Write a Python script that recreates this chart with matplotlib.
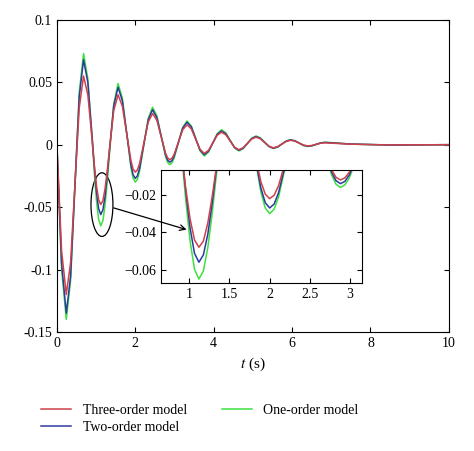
import matplotlib
matplotlib.use("Agg")
import matplotlib.pyplot as plt
import numpy as np
from matplotlib.patches import Ellipse

plt.rcParams['font.family'] = ['Liberation Serif', 'DejaVu Serif']
plt.rcParams['mathtext.fontset'] = 'stix'

# time samples (s)
t = [0, 0.12, 0.24, 0.35, 0.46, 0.57, 0.68, 0.79, 0.90, 1.01, 1.12, 1.23, 1.34, 1.45, 1.56,
     1.67, 1.78, 1.89, 2.00, 2.11, 2.22, 2.33, 2.44, 2.55, 2.66, 2.77, 2.88, 2.99, 3.10,
     3.21, 3.32, 3.43, 3.54, 3.65, 3.76, 3.87, 3.98, 4.09, 4.20, 4.31, 4.42, 4.53, 4.64,
     4.75, 4.86, 4.97, 5.08, 5.19, 5.30, 5.41, 5.52, 5.63, 5.74, 5.85, 5.96, 6.07, 6.18,
     6.29, 6.40, 6.51, 6.62, 6.73, 6.84, 7.5, 8.5, 10.0]

three_order = [0, -0.085,
               -0.12, -0.0944, -0.0325, 0.0294, 0.055,
               0.0399, 0.0035, -0.0329, -0.048,
               -0.0351, -0.004, 0.0271, 0.040,
               0.0309, 0.009, -0.0129, -0.022,
               -0.0151, 0.0015, 0.0181, 0.025,
               0.0196, 0.0065, -0.0066, -0.012,
               -0.0079, 0.002, 0.0119, 0.016,
               0.0126, 0.0045, -0.0036, -0.007,
               -0.0045, 0.0015, 0.0075, 0.010,
               0.0079, 0.003, -0.0019, -0.004,
               -0.0025, 0.001, 0.0045, 0.006,
               0.0048, 0.0018, -0.0012, -0.0025,
               -0.0016, 0.0005, 0.0026, 0.0035,
               0.0029, 0.0013, -0.0003, -0.001,
               -0.0006, 0.0003, 0.0012, 0.0015,
               0.0004, -0.0002, 0]

two_order = [0, -0.095,
             -0.135, -0.1053, -0.0335, 0.0383, 0.068,
             0.0498, 0.006, -0.0378, -0.056,
             -0.0411, -0.005, 0.0311, 0.046,
             0.0353, 0.0095, -0.0163, -0.027,
             -0.0189, 0.0005, 0.0199, 0.028,
             0.0218, 0.007, -0.0078, -0.014,
             -0.0093, 0.002, 0.0133, 0.018,
             0.0142, 0.005, -0.0042, -0.008,
             -0.0052, 0.0015, 0.0082, 0.011,
             0.0087, 0.0033, -0.0022, -0.0045,
             -0.0029, 0.001, 0.0049, 0.0065,
             0.0051, 0.0019, -0.0014, -0.0028,
             -0.0018, 0.0005, 0.0028, 0.0038,
             0.0031, 0.0013, -0.0005, -0.0012,
             -0.0008, 0.0003, 0.0014, 0.0018,
             0.0005, -0.0003, 0]

one_order = [0, -0.10,
             -0.14, -0.1088, -0.0335, 0.0418, 0.073,
             0.0528, 0.004, -0.0448, -0.065,
             -0.0483, -0.008, 0.0323, 0.049,
             0.0374, 0.0095, -0.0184, -0.030,
             -0.0212, 0, 0.0212, 0.030,
             0.0233, 0.007, -0.0093, -0.016,
             -0.0109, 0.0015, 0.0139, 0.019,
             0.0149, 0.005, -0.0049, -0.009,
             -0.0059, 0.0015, 0.0089, 0.012,
             0.0095, 0.0035, -0.0025, -0.005,
             -0.0032, 0.001, 0.0052, 0.007,
             0.0055, 0.002, -0.0015, -0.003,
             -0.002, 0.0005, 0.003, 0.004,
             0.0032, 0.0013, -0.0007, -0.0015,
             -0.001, 0.0003, 0.0015, 0.002,
             0.0005, -0.0003, 0]

# extra samples around the troughs shown in the zoomed inset
t_extra = [0.955, 1.065, 1.175, 1.285, 1.945, 2.055, 2.825, 2.935]
three_extra = [-0.0162, -0.0441, -0.0447, -0.0209, -0.0196, -0.0202, -0.0106, -0.0109]
two_extra = [-0.0177, -0.0513, -0.0521, -0.0245, -0.0242, -0.0249, -0.0124, -0.0128]
one_extra = [-0.0224, -0.0598, -0.0607, -0.0298, -0.0270, -0.0277, -0.0143, -0.0147]

labels = ['Three-order model', 'Two-order model', 'One-order model']
colors = ['#d0404a', '#2c3aa0', '#3ee040']

tt = np.array(t + t_extra)
order = np.argsort(tt)
tt = tt[order]
series = [np.array(three_order + three_extra)[order],
          np.array(two_order + two_extra)[order],
          np.array(one_order + one_extra)[order]]

fig = plt.figure(figsize=(4.74, 4.51), dpi=100)
ax = fig.add_axes([0.12, 0.264, 0.827, 0.692])

lines = []
for y, c, lab in zip(series[::-1], colors[::-1], labels[::-1]):
    l, = ax.plot(tt, y, color=c, lw=1.1, label=lab)
    lines.append(l)
lines = lines[::-1]

ax.set_xlim(0, 10)
ax.set_ylim(-0.15, 0.1)
ax.set_xticks([0, 2, 4, 6, 8, 10])
ax.set_yticks([-0.15, -0.1, -0.05, 0, 0.05, 0.1])
ax.set_yticklabels(['-0.15', '-0.1', '-0.05', '0', '0.05', '0.1'])
ax.tick_params(direction='in', top=True, right=True, labelsize=10)
ax.set_xlabel('$t$ (s)', fontsize=11)

ax.add_patch(Ellipse((1.15, -0.048), 0.56, 0.051, fill=False, ec='black', lw=0.9))

ins = fig.add_axes([0.34, 0.373, 0.424, 0.25])
for y, c in zip(series[::-1], colors[::-1]):
    ins.plot(tt, y, color=c, lw=1.1)
ins.set_xlim(0.65, 3.15)
ins.set_ylim(-0.067, -0.0067)
ins.set_xticks([1, 1.5, 2, 2.5, 3])
ins.set_xticklabels(['1', '1.5', '2', '2.5', '3'])
ins.set_yticks([-0.06, -0.04, -0.02])
ins.tick_params(direction='in', top=True, right=True, labelsize=10)

ins.annotate('', xy=(1.0, -0.039), xycoords='data',
             xytext=(1.38, -0.05), textcoords=ax.transData,
             arrowprops=dict(arrowstyle='->', color='black', lw=0.9),
             annotation_clip=False)

fig.legend([lines[0], lines[1], lines[2]], labels, loc='lower left',
           bbox_to_anchor=(0.06, 0.01), ncol=2, frameon=False, fontsize=10,
           handlelength=2.2, columnspacing=2.5, labelspacing=0.3)

fig.savefig('out.png', dpi=100)
